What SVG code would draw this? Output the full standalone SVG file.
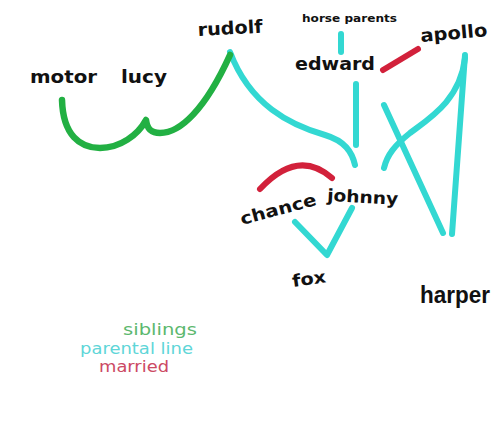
<svg xmlns="http://www.w3.org/2000/svg" width="496" height="433" viewBox="0 0 496 433">
<style>
.l{fill:none;stroke-linecap:round;stroke-linejoin:round;stroke-width:6}
.sib{stroke:#22b043;stroke-width:6.5}
.par{stroke:#33d8d2}
.mar{stroke:#d2213b}
.lbl{font-family:"DejaVu Sans","Liberation Sans",sans-serif;font-weight:bold;fill:#111}
.leg{font-family:"DejaVu Sans","Liberation Sans",sans-serif;font-size:15px}
</style>
<rect width="496" height="433" fill="#fff"/>
<g id="connectors">
<path class="l par" d="M230,52 C250,105 290,125 325,135 C345,141 352,152 355,165"/>
<path class="l par" d="M341,34 L341,52"/>
<path class="l par" d="M356,84 L356,145"/>
<path class="l par" d="M465,58 C460,100 430,118 410,133 C395,145 387,155 384,168"/>
<path class="l par" d="M465,55 L452,234"/>
<path class="l par" d="M384,105 L443,233"/>
<path class="l par" d="M295,222 L327,255 L352,208"/>
<path class="l sib" d="M62,100 C63,135 80,148 100,148 C120,148 138,135 146,120 C147,128 150,133 160,133 C180,133 205,110 230,55"/>
<path class="l mar" d="M260,189 Q298,148 332,178"/>
<path class="l mar" d="M383,70 L418,49"/>
</g>
<g id="motor"><text class="lbl" x="30" y="83" font-size="18" textLength="67" lengthAdjust="spacingAndGlyphs">motor</text></g>
<g id="lucy"><text class="lbl" x="121" y="83" font-size="18" textLength="46" lengthAdjust="spacingAndGlyphs">lucy</text></g>
<g id="rudolf"><text class="lbl" x="198" y="36" font-size="18" textLength="65" lengthAdjust="spacingAndGlyphs" transform="rotate(-3 198 36)">rudolf</text></g>
<g id="horse-parents"><text class="lbl" x="302" y="22" font-size="11" textLength="95" lengthAdjust="spacingAndGlyphs">horse parents</text></g>
<g id="edward"><text class="lbl" x="295" y="70" font-size="18" textLength="80" lengthAdjust="spacingAndGlyphs">edward</text></g>
<g id="apollo"><text class="lbl" x="421" y="42" font-size="18" textLength="67" lengthAdjust="spacingAndGlyphs" transform="rotate(-5 421 42)">apollo</text></g>
<g id="chance"><text class="lbl" x="242" y="225" font-size="17" textLength="78" lengthAdjust="spacingAndGlyphs" transform="rotate(-15 242 225)">chance</text></g>
<g id="johnny"><text class="lbl" x="327" y="201" font-size="17" textLength="71" lengthAdjust="spacingAndGlyphs" transform="rotate(3 327 201)">johnny</text></g>
<g id="fox"><text class="lbl" x="293" y="287" font-size="17" textLength="34" lengthAdjust="spacingAndGlyphs" transform="rotate(-8 293 287)">fox</text></g>
<g id="harper"><text class="lbl" x="420" y="303" font-size="24" textLength="70" lengthAdjust="spacingAndGlyphs" style="font-family:'Liberation Sans',Arial,sans-serif">harper</text></g>
<g id="legend">
<text class="leg" x="123" y="335" fill="#5cb86e" textLength="74" lengthAdjust="spacingAndGlyphs">siblings</text>
<text class="leg" x="80" y="354" fill="#5fd6d8" textLength="113" lengthAdjust="spacingAndGlyphs">parental line</text>
<text class="leg" x="99" y="372" fill="#cc4a64" textLength="70" lengthAdjust="spacingAndGlyphs">married</text>
</g>
</svg>
